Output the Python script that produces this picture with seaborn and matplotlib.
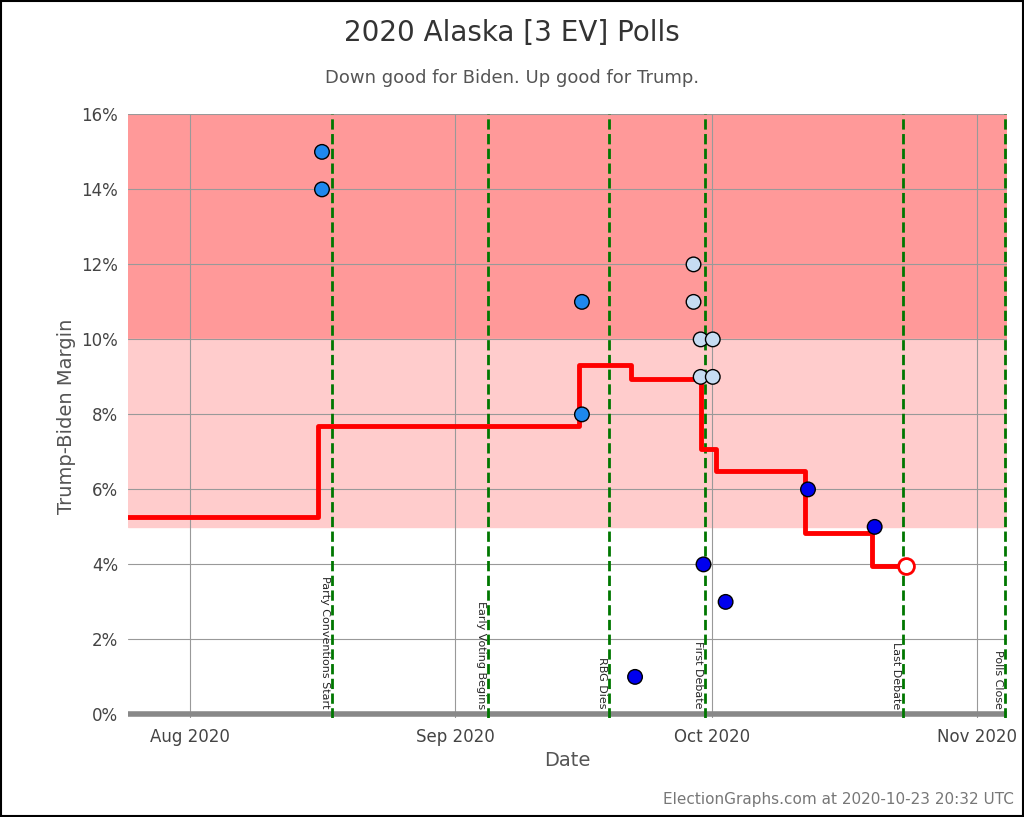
import pandas as pd
import seaborn as sns
import matplotlib.pyplot as plt
import matplotlib.dates as mdates
from matplotlib.patches import Rectangle

# Poll data (margin %, Trump - Biden)
poll_dates = ['2020-08-16 10:00', '2020-08-16 10:00', '2020-09-15 19:00', '2020-09-15 19:00',
              '2020-09-22 00:00', '2020-09-28 20:00', '2020-09-28 20:00', '2020-09-29 16:00',
              '2020-09-29 16:00', '2020-10-01 02:00', '2020-10-01 02:00', '2020-09-30 00:00',
              '2020-10-02 14:00', '2020-10-12 05:00', '2020-10-20 00:00']
poll_margins = [15, 14, 11, 8, 1, 12, 11, 10, 9, 10, 9, 4, 3, 6, 5]
poll_kind = ['mid', 'mid', 'mid', 'mid', 'dark', 'light', 'light', 'light', 'light',
             'light', 'light', 'dark', 'dark', 'dark', 'dark']

avg_dates = ['2020-07-24 00:00', '2020-08-15 22:00', '2020-09-15 12:00', '2020-09-21 12:00',
             '2020-09-29 16:00', '2020-09-30 04:00', '2020-10-01 12:00', '2020-10-11 20:00',
             '2020-10-19 16:00', '2020-10-23 16:00']
avg_values = [5.27, 7.68, 9.33, 8.95, 7.08, 7.08, 6.5, 4.85, 3.97, 3.97]

events = ['2020-08-17 14:00', '2020-09-04 20:00', '2020-09-19 00:00', '2020-09-30 04:00',
          '2020-10-23 08:00', '2020-11-04 06:00']
event_labels = ['Party Conventions Start', 'Early Voting Begins', 'RBG Dies',
                'First Debate', 'Last Debate', 'Polls Close']

polls = pd.DataFrame({'date': pd.to_datetime(poll_dates, format='mixed'),
                      'margin': poll_margins, 'kind': poll_kind})
avg = pd.DataFrame({'date': pd.to_datetime(avg_dates, format='mixed'), 'margin': avg_values})

sns.set_style('white')
plt.rcParams['font.family'] = ['DejaVu Sans']

fig = plt.figure(figsize=(10.24, 8.17), dpi=100)
ax = fig.add_axes([0.125, 0.121, 0.858, 0.739])
xmin, xmax = pd.Timestamp('2020-07-24 18:00'), pd.Timestamp('2020-11-04 10:00')
ax.set_xlim(xmin, xmax)
ax.set_ylim(-0.1, 16)

ax.axhspan(10, 16, color='#ff9999', zorder=0)
ax.axhspan(5, 10, color='#ffcccc', zorder=0)
ax.grid(True, color='#999999', linewidth=0.8, zorder=1)
ax.set_axisbelow(True)
ax.axhline(0, color='#888888', linewidth=4, zorder=2)

for d, lab in zip(events, event_labels):
    t = pd.Timestamp(d)
    ax.axvline(t, color='#007700', linestyle='--', linewidth=2, zorder=3)
    ax.text(t - pd.Timedelta(hours=20), 0.15, lab, rotation=270, ha='center', va='bottom',
            fontsize=8, zorder=4)

sns.lineplot(data=avg, x='date', y='margin', drawstyle='steps-post', color='red',
             linewidth=3.5, ax=ax, zorder=5)

colors = {'mid': '#1e88ee', 'dark': '#0000ee', 'light': '#c6dcf2'}
sns.scatterplot(data=polls, x='date', y='margin', hue='kind', palette=colors, s=110,
                edgecolor='black', linewidth=1, legend=False, ax=ax, zorder=6)
ax.scatter([avg['date'].iloc[-1]], [avg['margin'].iloc[-1]], s=130, facecolor='white',
           edgecolor='red', linewidth=2, zorder=7)

ax.xaxis.set_major_locator(mdates.MonthLocator())
ax.xaxis.set_major_formatter(mdates.DateFormatter('%b %Y'))
ax.set_yticks(range(0, 17, 2))
ax.set_yticklabels([f'{v}%' for v in range(0, 17, 2)])
ax.tick_params(labelsize=12, colors='#444444')
ax.set_xlabel('Date', fontsize=14, color='#555555')
ax.set_ylabel('Trump-Biden Margin', fontsize=14, color='#555555')
for s in ax.spines.values():
    s.set_visible(False)

fig.text(0.5, 0.96, '2020 Alaska [3 EV] Polls', ha='center', va='center', fontsize=20, color='#333333')
fig.text(0.5, 0.905, 'Down good for Biden. Up good for Trump.', ha='center', va='center',
         fontsize=13, color='#555555')
fig.text(0.99, 0.012, 'ElectionGraphs.com at 2020-10-23 20:32 UTC', ha='right', va='bottom',
         fontsize=11, color='#777777')
fig.add_artist(Rectangle((0.001, 0.001), 0.998, 0.998, transform=fig.transFigure,
                         fill=False, edgecolor='black', linewidth=1.5))

fig.savefig('out.png', dpi=100)
